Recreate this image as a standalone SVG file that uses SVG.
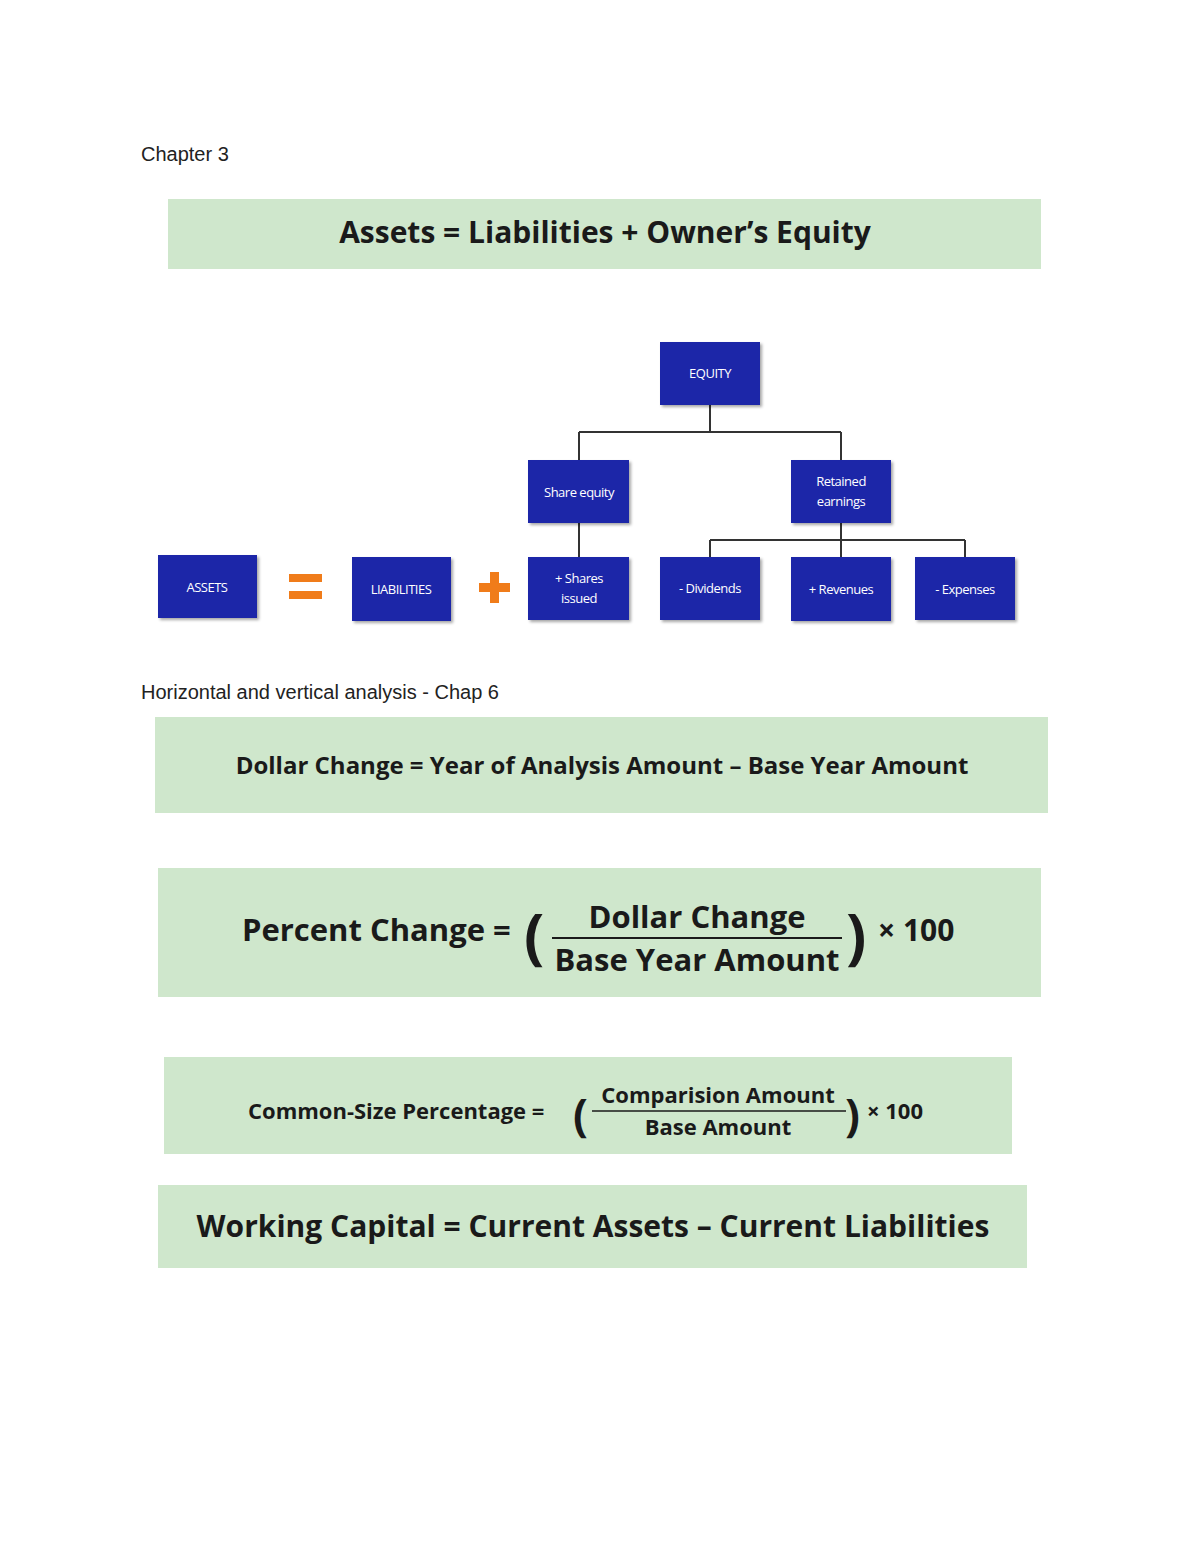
<svg xmlns="http://www.w3.org/2000/svg" width="1200" height="1553" viewBox="0 0 1200 1553">
<style>
.g{fill:#cfe7cc}
.f{font-family:"Open Sans","Liberation Sans",sans-serif;font-weight:bold;fill:#1a1a1a}
.h{font-family:"Liberation Sans",Arial,sans-serif;font-size:20px;fill:#222}
.n{fill:#1c27a8;filter:url(#sh)}
.t{font-family:"Open Sans","Liberation Sans",sans-serif;font-size:13px;fill:#fff;text-anchor:middle;letter-spacing:-0.5px}
.c{stroke:#333;stroke-width:2;fill:none}
.o{fill:#f07c1a}
</style>
<defs><filter id="sh" x="-10%" y="-10%" width="130%" height="130%"><feDropShadow dx="2" dy="2" stdDeviation="1.5" flood-color="#000" flood-opacity="0.35"/></filter></defs>
<rect width="1200" height="1553" fill="#fff"/>
<text class="h" x="141" y="161">Chapter 3</text>
<g id="f1"><rect class="g" x="168" y="199" width="873" height="70"/><text class="f" x="605" y="243" font-size="30" text-anchor="middle">Assets = Liabilities + Owner’s Equity</text></g>
<g id="connectors">
<path class="c" d="M710 405V432M579 432H841M579 432V460M841 432V460M579 523V557M841 523V540M710 540H965M710 540V557M841 540V557M965 540V557"/>
</g>
<g id="equity"><rect class="n" x="660" y="342" width="100" height="63"/><text class="t" x="710" y="378">EQUITY</text></g>
<g id="shareequity"><rect class="n" x="528" y="460" width="101" height="63"/><text class="t" x="579" y="497">Share equity</text></g>
<g id="retained"><rect class="n" x="791" y="460" width="100" height="63"/><text class="t" x="841" y="486">Retained</text><text class="t" x="841" y="506">earnings</text></g>
<g id="assets"><rect class="n" x="158" y="555" width="99" height="63"/><text class="t" x="207" y="592">ASSETS</text></g>
<g id="equals"><rect class="o" x="289" y="574" width="33" height="8"/><rect class="o" x="289" y="591" width="33" height="8"/></g>
<g id="liabilities"><rect class="n" x="352" y="557" width="99" height="64"/><text class="t" x="401" y="594">LIABILITIES</text></g>
<g id="plus"><rect class="o" x="479" y="583" width="31" height="9"/><rect class="o" x="490" y="572" width="9" height="31"/></g>
<g id="shares"><rect class="n" x="528" y="557" width="101" height="63"/><text class="t" x="579" y="583">+ Shares</text><text class="t" x="579" y="603">issued</text></g>
<g id="dividends"><rect class="n" x="660" y="557" width="100" height="63"/><text class="t" x="710" y="593">- Dividends</text></g>
<g id="revenues"><rect class="n" x="791" y="557" width="100" height="64"/><text class="t" x="841" y="594">+ Revenues</text></g>
<g id="expenses"><rect class="n" x="915" y="557" width="100" height="63"/><text class="t" x="965" y="594">- Expenses</text></g>
<text class="h" x="141" y="699">Horizontal and vertical analysis - Chap 6</text>
<g id="f2"><rect class="g" x="155" y="717" width="893" height="96"/><text class="f" x="602" y="774" font-size="24" text-anchor="middle">Dollar Change = Year of Analysis Amount – Base Year Amount</text></g>
<g id="f3"><rect class="g" x="158" y="868" width="883" height="129"/>
<text class="f" x="242" y="941" font-size="31">Percent Change =</text>
<text class="f" x="524" y="958" font-size="60" font-weight="normal">(</text>
<text class="f" x="697" y="928" font-size="31" text-anchor="middle">Dollar Change</text>
<line x1="552" y1="938" x2="842" y2="938" stroke="#1a1a1a" stroke-width="2"/>
<text class="f" x="697" y="971" font-size="31" text-anchor="middle">Base Year Amount</text>
<text class="f" x="846" y="958" font-size="60" font-weight="normal">)</text>
<text class="f" x="878" y="941" font-size="30">× 100</text></g>
<g id="f4"><rect class="g" x="164" y="1057" width="848" height="97"/>
<text class="f" x="248" y="1119" font-size="22">Common-Size Percentage =</text>
<text class="f" x="573" y="1131" font-size="44" font-weight="normal">(</text>
<text class="f" x="718" y="1103" font-size="22" text-anchor="middle">Comparision Amount</text>
<line x1="592" y1="1111" x2="846" y2="1111" stroke="#1a1a1a" stroke-width="1.5"/>
<text class="f" x="718" y="1135" font-size="22" text-anchor="middle">Base Amount</text>
<text class="f" x="845" y="1131" font-size="44" font-weight="normal">)</text>
<text class="f" x="867" y="1119" font-size="22">× 100</text></g>
<g id="f5"><rect class="g" x="158" y="1185" width="869" height="83"/><text class="f" x="593" y="1237" font-size="30" text-anchor="middle">Working Capital = Current Assets – Current Liabilities</text></g>
</svg>
